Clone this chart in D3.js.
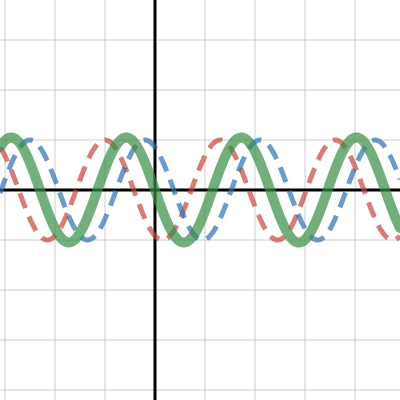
<html>
<head>
<script src="https://d3js.org/d3.v7.min.js"></script>
</head>
<body style="margin:0">
<svg width="400" height="400"></svg>
<script>
const names = ['red', 'blue', 'green'];
const amplitudes = [1, 1, 1.05];
const frequencies = [2.73, 2.73, 2.73];
const phases = [1.0, 0.2, 0.575];   // cos(k(x+phase))
const colors = ['#c74440', '#2d70b3', '#388c46'];
const gridTicks = d3.range(-3, 5);
const yGridTicks = d3.range(-4, 4);

const svg = d3.select('svg');
const width = 400, height = 400;
const x = d3.scaleLinear().domain([-3.1, 4.9]).range([0, width]);
const y = d3.scaleLinear().domain([-4.2, 3.8]).range([height, 0]);

svg.append('rect').attr('width', width).attr('height', height).attr('fill', 'white');

svg.selectAll('line.vg').data(gridTicks).join('line').attr('class', 'vg')
    .attr('x1', d => x(d)).attr('x2', d => x(d)).attr('y1', 0).attr('y2', height)
    .attr('stroke', '#ccc').attr('stroke-width', 1);
svg.selectAll('line.hg').data(yGridTicks).join('line').attr('class', 'hg')
    .attr('y1', d => y(d)).attr('y2', d => y(d)).attr('x1', 0).attr('x2', width)
    .attr('stroke', '#ccc').attr('stroke-width', 1);

svg.append('line').attr('x1', x(0)).attr('x2', x(0)).attr('y1', 0).attr('y2', height)
    .attr('stroke', 'black').attr('stroke-width', 3);
svg.append('line').attr('y1', y(0)).attr('y2', y(0)).attr('x1', 0).attr('x2', width)
    .attr('stroke', 'black').attr('stroke-width', 3);

const xs = d3.range(-3.1, 4.91, 0.02);
const line = d3.line().x(d => x(d[0])).y(d => y(d[1]));

names.forEach((n, i) => {
    const pts = xs.map(v => [v, amplitudes[i] * Math.cos(frequencies[i] * (v + phases[i]))]);
    svg.append('path').datum(pts).attr('d', line)
        .attr('fill', 'none').attr('stroke', colors[i]).attr('stroke-opacity', 0.7)
        .attr('stroke-width', n === 'green' ? 10 : 5)
        .attr('stroke-dasharray', n === 'green' ? null : '16,9')
        .attr('stroke-linecap', n === 'green' ? 'round' : 'butt');
});
</script>
</body>
</html>
